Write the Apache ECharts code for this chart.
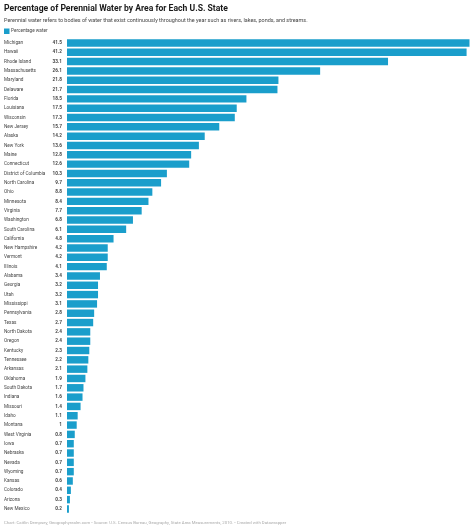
<!DOCTYPE html>
<html>
<head>
<meta charset="utf-8">
<style>
  html, body { margin: 0; padding: 0; background: #fff; }
  #chart { width: 474px; height: 530px; }
</style>
<script src="https://cdn.jsdelivr.net/npm/echarts@6/dist/echarts.min.js"></script>
</head>
<body>
<div id="chart"></div>
<script>
var states = ['Michigan', 'Hawaii', 'Rhode Island', 'Massachusetts', 'Maryland', 'Delaware', 'Florida',
  'Louisiana', 'Wisconsin', 'New Jersey', 'Alaska', 'New York', 'Maine', 'Connecticut',
  'District of Columbia', 'North Carolina', 'Ohio', 'Minnesota', 'Virginia', 'Washington',
  'South Carolina', 'California', 'New Hampshire', 'Vermont', 'Illinois', 'Alabama', 'Georgia',
  'Utah', 'Mississippi', 'Pennsylvania', 'Texas', 'North Dakota', 'Oregon', 'Kentucky', 'Tennessee',
  'Arkansas', 'Oklahoma', 'South Dakota', 'Indiana', 'Missouri', 'Idaho', 'Montana', 'West Virginia',
  'Iowa', 'Nebraska', 'Nevada', 'Wyoming', 'Kansas', 'Colorado', 'Arizona', 'New Mexico'];
var water = [41.5, 41.2, 33.1, 26.1, 21.8, 21.7, 18.5, 17.5, 17.3, 15.7, 14.2, 13.6, 12.8, 12.6,
  10.3, 9.7, 8.8, 8.4, 7.7, 6.8, 6.1, 4.8, 4.2, 4.2, 4.1, 3.4, 3.2, 3.2, 3.1, 2.8, 2.7, 2.4, 2.4,
  2.3, 2.2, 2.1, 1.9, 1.7, 1.6, 1.4, 1.1, 1, 0.8, 0.7, 0.7, 0.7, 0.7, 0.6, 0.4, 0.3, 0.2];

var font = 'Roboto';
var chart = echarts.init(document.getElementById('chart'));

chart.setOption({
  backgroundColor: '#ffffff',
  animation: false,
  textStyle: { fontFamily: font },
  title: {
    text: 'Percentage of Perennial Water by Area for Each U.S. State',
    subtext: 'Perennial water refers to bodies of water that exist continuously throughout the year such as rivers, lakes, ponds, and streams.',
    left: 4,
    top: 4.5,
    itemGap: 5,
    padding: 0,
    textStyle: { fontFamily: font, fontSize: 8.6, fontWeight: 700, color: '#1a1a1a' },
    subtextStyle: { fontFamily: font, fontSize: 5.45, color: '#444444' }
  },
  legend: {
    left: 4,
    top: 28.5,
    padding: 0,
    itemWidth: 5.5,
    itemHeight: 5.5,
    itemGap: 4,
    icon: 'rect',
    textStyle: { fontFamily: font, fontSize: 4.7, color: '#444444', padding: [0, 0, 0, -3.5] },
    data: ['Percentage water']
  },
  grid: { left: 67, right: 4.5, top: 38.3, bottom: 16.4, containLabel: false },
  xAxis: { type: 'value', min: 0, max: 41.5, show: false },
  yAxis: {
    type: 'category',
    inverse: true,
    data: states,
    axisLine: { show: false },
    axisTick: { show: false },
    axisLabel: {
      interval: 0,
      align: 'left',
      margin: 63,
      fontFamily: font,
      fontSize: 4.7,
      color: '#444444'
    }
  },
  series: [{
    name: 'Percentage water',
    type: 'bar',
    data: water,
    barCategoryGap: '20%',
    itemStyle: { color: '#1a9ecb' },
    label: {
      show: true,
      position: 'left',
      distance: 5,
      fontFamily: font,
      fontSize: 4.7,
      fontWeight: 700,
      color: '#444444'
    }
  }],
  graphic: [{
    type: 'text',
    left: 4,
    top: 520.8,
    style: {
      text: 'Chart: Caitlin Dempsey, Geographyrealm.com • Source: U.S. Census Bureau, Geography, State Area Measurements, 2010. • Created with Datawrapper',
      fontFamily: font,
      fontSize: 4.3,
      fill: '#aaaaaa'
    }
  }]
});
</script>
</body>
</html>
